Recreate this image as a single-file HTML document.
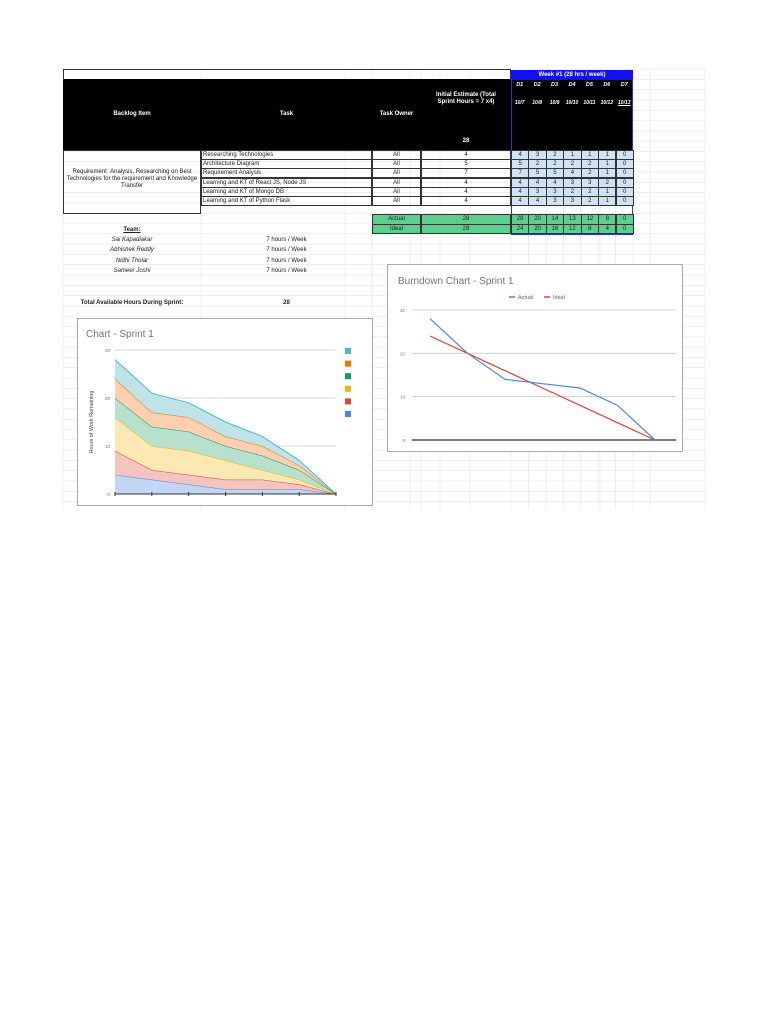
<!DOCTYPE html>
<html><head><meta charset="utf-8">
<style>
body{margin:0;width:768px;height:1024px;background:#fff;position:relative;overflow:hidden;font-family:"Liberation Sans",Arial,sans-serif;}
.a{position:absolute;box-sizing:border-box;}
.t{position:absolute;font-size:6px;line-height:7px;color:#222;white-space:nowrap;}
.c{text-align:center;}
.w{color:#fff;font-weight:bold;}
.cell{position:absolute;box-sizing:border-box;border:0.8px solid #333;font-size:6px;line-height:8px;text-align:center;color:#222;}
</style></head><body>
<svg id="grid" class="a" style="left:0;top:0" width="768" height="1024"></svg>

<div class="a" style="left:63px;top:79px;width:570px;height:71px;background:#000"></div>
<div class="a" style="left:63px;top:69px;width:448px;height:11px;border:1px solid #333;border-bottom:none"></div>
<div class="a" style="left:511px;top:70px;width:122px;height:10px;background:#1010f0;color:#fff;font-size:6px;font-weight:bold;text-align:center;line-height:10px">Week #1 (28 hrs / week)</div>
<div class="a" style="left:511px;top:79px;width:122px;height:156px;border:1px solid #3030d0;border-top:none"></div>
<div class="t w c" style="left:63px;top:111px;width:138px">Backlog Item</div>
<div class="t w c" style="left:201px;top:111px;width:171px">Task</div>
<div class="t w c" style="left:360px;top:111px;width:73px">Task Owner</div>
<div class="t w c" style="left:428px;top:92px;width:76px;white-space:normal">Initial Estimate (Total Sprint Hours = 7 x4)</div>
<div class="t w c" style="left:421px;top:138px;width:90px">28</div>

<div class="a" style="left:63px;top:150px;width:138px;height:64px;border:1px solid #333"></div>
<div class="t c" style="left:66px;top:169px;width:132px;white-space:normal">Requirement &nbsp;Analysis, Researching on Best Technologies for the requirement and Knowledge Transfer</div>

<div class="t c" style="left:63px;top:227px;width:138px;font-weight:bold;text-decoration:underline">Team:</div>
<div class="t c" style="left:63px;top:237px;width:138px;font-style:italic">Sai Kapadiakar</div>
<div class="t c" style="left:63px;top:247px;width:138px;font-style:italic">Abhishek Reddy</div>
<div class="t c" style="left:63px;top:258px;width:138px;font-style:italic">Nidhi Tholar</div>
<div class="t c" style="left:63px;top:268px;width:138px;font-style:italic">Sameer Joshi</div>
<div class="t c" style="left:201px;top:237px;width:171px">7 hours / Week</div>
<div class="t c" style="left:201px;top:247px;width:171px">7 hours / Week</div>
<div class="t c" style="left:201px;top:258px;width:171px">7 hours / Week</div>
<div class="t c" style="left:201px;top:268px;width:171px">7 hours / Week</div>
<div class="t c" style="left:63px;top:300px;width:138px;font-weight:bold">Total Available Hours During Sprint:</div>
<div class="t c" style="left:201px;top:300px;width:171px;font-weight:bold">28</div>

<svg id="area" class="a" style="left:77px;top:318px;background:#fff;border:1.5px solid #aaa" width="296" height="188"></svg>
<svg id="burn" class="a" style="left:387px;top:264px;background:#fff;border:1.5px solid #aaa" width="296" height="188"></svg>

<script>
const tasks=["Researching Technologies","Architecture Diagram","Requirement Analysis","Learning and KT of React JS, Node JS","Learning and KT of Mongo DB","Learning and KT of Python Flask"];
const owners=["All","All","All","All","All","All"];
const estimates=[4,5,7,4,4,4];
const dayLabels=["D1","D2","D3","D4","D5","D6","D7"];
const dateLabels=["10/7","10/8","10/9","10/10","10/11","10/12","10/13"];
const taskResearch=[4,3,2,1,1,1,0];
const taskArch=[5,2,2,2,2,1,0];
const taskReq=[7,5,5,4,2,1,0];
const taskReact=[4,4,4,3,3,2,0];
const taskMongo=[4,3,3,2,2,1,0];
const taskFlask=[4,4,3,3,2,1,0];
const actual=[28,20,14,13,12,8,0];
const ideal=[24,20,16,12,8,4,0];
const yTicks=[0,10,20,30];
const NS="http://www.w3.org/2000/svg";
const taskRows=[taskResearch,taskArch,taskReq,taskReact,taskMongo,taskFlask];
const DX=511,DW=17.43;

const g=document.getElementById('grid');
function ln(svg,x1,y1,x2,y2,col,w,name){const l=document.createElementNS(NS,'line');l.setAttribute('x1',x1);l.setAttribute('y1',y1);l.setAttribute('x2',x2);l.setAttribute('y2',y2);l.setAttribute('stroke',col);l.setAttribute('stroke-width',w);


svg.appendChild(l);return l;}
for(let y=69;y<=510;y+=10.3)ln(g,63,y,705,y,'#e4e4e4',0.6,'grid-row-line');
[63,201,372,421,511,528.4,545.9,563.3,580.7,598.1,615.6,633,705,345,410,440,470,600,650].forEach(x=>ln(g,x,69,x,510,'#e4e4e4',0.6,'grid-col-line'));

function div(parent,cls,style,text,name){const d=document.createElement('div');d.className=cls;d.setAttribute('style',style);d.textContent=text;


document.body.appendChild(d);return d;}
for(let i=0;i<7;i++){
 div(null,'t w c',`left:${DX+i*DW}px;top:82px;width:${DW}px;font-style:italic;font-size:5.5px`,dayLabels[i],'day-label');
 const dd=div(null,'t w c',`left:${DX+i*DW}px;top:100px;width:${DW}px;font-style:italic;font-size:5px`,dateLabels[i],'date-label');
 if(i==6)dd.style.textDecoration='underline';
}
const rh=9.2;
for(let r=0;r<6;r++){
 const y=150+r*rh;
 div(null,'cell',`left:201px;top:${y}px;width:171px;height:${rh+0.8}px;text-align:left;padding-left:1px`,tasks[r],'task-cell');
 div(null,'cell',`left:372px;top:${y}px;width:49px;height:${rh+0.8}px`,owners[r],'owner-cell');
 div(null,'cell',`left:421px;top:${y}px;width:90px;height:${rh+0.8}px`,estimates[r],'estimate-cell');
 for(let i=0;i<7;i++)div(null,'cell',`left:${DX+i*DW}px;top:${y}px;width:${DW+0.8}px;height:${rh+0.8}px;background:#cfe2f3`,taskRows[r][i],'hours-cell');
}
[[actual,'Actual',214],[ideal,'Ideal',223.7]].forEach(([arr,lab,y])=>{
 div(null,'cell',`left:372px;top:${y}px;width:49px;height:10.5px;background:#5ccf8f`,lab,'summary-label');
 div(null,'cell',`left:421px;top:${y}px;width:90px;height:10.5px;background:#5ccf8f`,28,'summary-estimate');
 for(let i=0;i<7;i++)div(null,'cell',`left:${DX+i*DW}px;top:${y}px;width:${DW+0.8}px;height:10.5px;background:#5ccf8f`,arr[i],'summary-cell');
});

function txt(svg,x,y,s,size,col,anchor,name){const t=document.createElementNS(NS,'text');t.setAttribute('x',x);t.setAttribute('y',y);t.setAttribute('font-size',size);t.setAttribute('fill',col);t.setAttribute('text-anchor',anchor||'start');t.setAttribute('font-family','Liberation Sans, sans-serif');t.textContent=s;


svg.appendChild(t);return t;}

(function(){
 const s=document.getElementById('area');
 const x0=37,x1=258,yb=175,yt=31;
 const X=i=>x0+i*(x1-x0)/6, Y=v=>yb-(v/30)*(yb-yt);
 txt(s,8,18,'Chart - Sprint 1',10,'#757575','start','chart-title');
 yTicks.forEach(v=>{if(v>0)ln(s,x0,Y(v),x1,Y(v),'#ccc',0.8,'y-gridline');txt(s,x0-5,Y(v)+2,v,4.5,'#777','end','y-tick-label');});
 const t=document.createElementNS(NS,'text');t.setAttribute('transform','translate(15,103) rotate(-90)');t.setAttribute('font-size',5.5);t.setAttribute('fill','#444');t.setAttribute('text-anchor','middle');t.textContent='Hours of Work Remaining';
 
 
 s.appendChild(t);
 const cols=['#4a86e8','#db4437','#f4b400','#0f9d58','#ff6d00','#46bdc6'];
 const fills=['#c4d6f5','#f3c4c0','#fce8b2','#b7e1cd','#fcd0b0','#bfe3e6'];
 let base=[0,0,0,0,0,0,0];
 taskRows.forEach((row,k)=>{
  const top=row.map((v,i)=>base[i]+v);
  let d='M'+top.map((v,i)=>X(i)+','+Y(v)).join(' L');
  for(let i=6;i>=0;i--)d+=' L'+X(i)+','+Y(base[i]);
  const p=document.createElementNS(NS,'path');p.setAttribute('d',d+'Z');p.setAttribute('fill',fills[k]);
  
  
  s.appendChild(p);
  const l=document.createElementNS(NS,'polyline');l.setAttribute('points',top.map((v,i)=>X(i)+','+Y(v)).join(' '));l.setAttribute('fill','none');l.setAttribute('stroke',cols[k]);l.setAttribute('stroke-width',1);
  
  
  s.appendChild(l);
  base=top;
  const r=document.createElementNS(NS,'rect');r.setAttribute('x',267);r.setAttribute('y',92-k*12.6);r.setAttribute('width',6);r.setAttribute('height',6);r.setAttribute('fill',cols[k]);
  
  
  s.appendChild(r);
 });
 ln(s,x0,yb,x1,yb,'#333',1,'x-axis');
 for(let i=0;i<7;i++)ln(s,X(i),yb-2,X(i),yb+2,'#333',1,'x-tick');
})();

(function(){
 const s=document.getElementById('burn');
 const gx0=24,gx1=288,x0=42,x1=267,yb=175,yt=45;
 const X=i=>x0+i*(x1-x0)/6, Y=v=>yb-(v/30)*(yb-yt);
 txt(s,10,19,'Burndown Chart - Sprint 1',10,'#757575','start','chart-title');
 yTicks.forEach(v=>{ln(s,gx0,Y(v),gx1,Y(v),v==0?'#555':'#ccc',v==0?1.5:0.8,'y-gridline');txt(s,gx0-7,Y(v)+2,v,4.5,'#777','end','y-tick-label');});
 ln(s,121,32,127,32,'#4a86e8',1.5,'legend-actual-swatch');txt(s,130,34,'Actual',5.5,'#666','start','legend-actual');
 ln(s,156,32,162,32,'#db4437',1.5,'legend-ideal-swatch');txt(s,165,34,'Ideal',5.5,'#666','start','legend-ideal');
 [[ideal,'#db4437','ideal-line'],[actual,'#4a86e8','actual-line']].forEach(([arr,col,name])=>{
  const l=document.createElementNS(NS,'polyline');l.setAttribute('points',arr.map((v,i)=>X(i)+','+Y(v)).join(' '));l.setAttribute('fill','none');l.setAttribute('stroke',col);l.setAttribute('stroke-width',1.2);
  
  
  s.appendChild(l);
 });
})();
</script>
</body></html>
